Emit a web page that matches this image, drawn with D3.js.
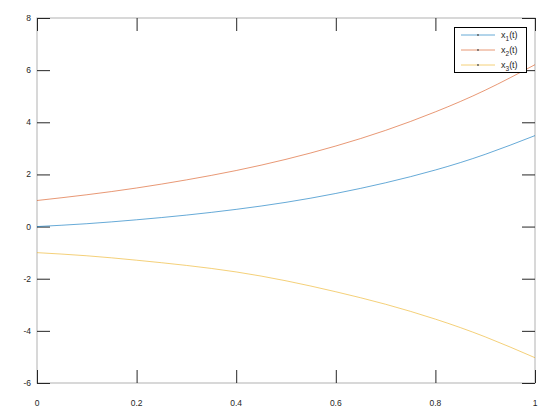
<!DOCTYPE html>
<html>
<head>
<meta charset="utf-8">
<script src="https://cdn.jsdelivr.net/npm/d3@7"></script>
<style>
  html, body { margin: 0; padding: 0; background: #fff; }
  svg { display: block; font-family: "Liberation Sans", Arial, sans-serif; }
</style>
</head>
<body>
<script>
const tValues = [0, 0.1, 0.2, 0.3, 0.4, 0.5, 0.6, 0.7, 0.8, 0.9, 1.0];
const x1Values = [0, 0.11, 0.26, 0.44, 0.66, 0.93, 1.27, 1.68, 2.17, 2.77, 3.49];
const x2Values = [1, 1.22, 1.48, 1.79, 2.15, 2.58, 3.09, 3.69, 4.40, 5.23, 6.21];
const x3Values = [-1, -1.12, -1.29, -1.49, -1.74, -2.08, -2.50, -2.98, -3.55, -4.23, -5.03];
const seriesNames = ["1", "2", "3"];
const seriesColors = ["#0072bd", "#d95319", "#edb120"];
const xTicks = [0, 0.2, 0.4, 0.6, 0.8, 1];
const xTickLabels = ["0", "0.2", "0.4", "0.6", "0.8", "1"];
const yTicks = [-6, -4, -2, 0, 2, 4, 6, 8];

const W = 560, H = 420;
const mLeft = 37, mRight = 535, mTop = 18, mBottom = 383;

const svg = d3.select("body").append("svg").attr("width", W).attr("height", H);

const x = d3.scaleLinear().domain([0, 1]).range([mLeft, mRight]);
const y = d3.scaleLinear().domain([-6, 8]).range([mBottom, mTop]);

const tickLen = 13;
const tickColor = "#262626";
const frameColor = "#c4c4c4";

// frame
svg.append("rect").attr("x", mLeft).attr("y", mTop)
  .attr("width", mRight - mLeft).attr("height", mBottom - mTop)
  .attr("fill", "none").attr("stroke", frameColor).attr("stroke-width", 1.3);

// axes (inward ticks on all sides)
const axB = svg.append("g").attr("transform", `translate(0,${mBottom})`)
  .call(d3.axisTop(x).tickValues(xTicks).tickSize(tickLen).tickSizeOuter(0).tickFormat(""));
const axT = svg.append("g").attr("transform", `translate(0,${mTop})`)
  .call(d3.axisBottom(x).tickValues(xTicks).tickSize(tickLen).tickSizeOuter(0).tickFormat(""));
const axL = svg.append("g").attr("transform", `translate(${mLeft},0)`)
  .call(d3.axisRight(y).tickValues(yTicks).tickSize(tickLen).tickSizeOuter(0).tickFormat(""));
const axR = svg.append("g").attr("transform", `translate(${mRight},0)`)
  .call(d3.axisLeft(y).tickValues(yTicks).tickSize(tickLen).tickSizeOuter(0).tickFormat(""));
[axB, axT, axL, axR].forEach(g => {
  g.select(".domain").remove();
  g.selectAll(".tick line").attr("stroke", tickColor).attr("stroke-width", 1);
});

// tick labels
svg.append("g").selectAll("text").data(xTicks).join("text")
  .attr("x", d => x(d)).attr("y", mBottom + 23)
  .attr("text-anchor", "middle").attr("font-size", 8.5).attr("fill", tickColor)
  .text((d, i) => xTickLabels[i]);
svg.append("g").selectAll("text").data(yTicks).join("text")
  .attr("x", mLeft - 6).attr("y", d => y(d) + 3)
  .attr("text-anchor", "end").attr("font-size", 8.5).attr("fill", tickColor)
  .text(d => d);

// lines
const series = [x1Values, x2Values, x3Values];
const line = d3.line().x((d, i) => x(tValues[i])).y(d => y(d)).curve(d3.curveNatural);
series.forEach((vals, k) => {
  svg.append("path").datum(vals).attr("d", line)
    .attr("fill", "none").attr("stroke", seriesColors[k])
    .attr("stroke-width", 1).attr("stroke-opacity", 0.6);
});

// legend
const lg = svg.append("g");
lg.append("rect").attr("x", 454.5).attr("y", 27.5).attr("width", 72).attr("height", 45)
  .attr("fill", "#fff").attr("stroke", "#000").attr("stroke-width", 1);
seriesNames.forEach((n, k) => {
  const yy = 35 + k * 15;
  lg.append("line").attr("x1", 461).attr("x2", 495).attr("y1", yy).attr("y2", yy)
    .attr("stroke", seriesColors[k]).attr("stroke-width", 1).attr("stroke-opacity", 0.6);
  lg.append("circle").attr("cx", 478).attr("cy", yy).attr("r", 0.9).attr("fill", "#555");
  const t = lg.append("text").attr("x", 501).attr("y", yy + 3).attr("font-size", 9).attr("fill", "#262626");
  t.append("tspan").text("x");
  t.append("tspan").attr("font-size", 6.5).attr("dy", 2.5).text(n);
  t.append("tspan").attr("dy", -2.5).text("(t)");
});
</script>
</body>
</html>
